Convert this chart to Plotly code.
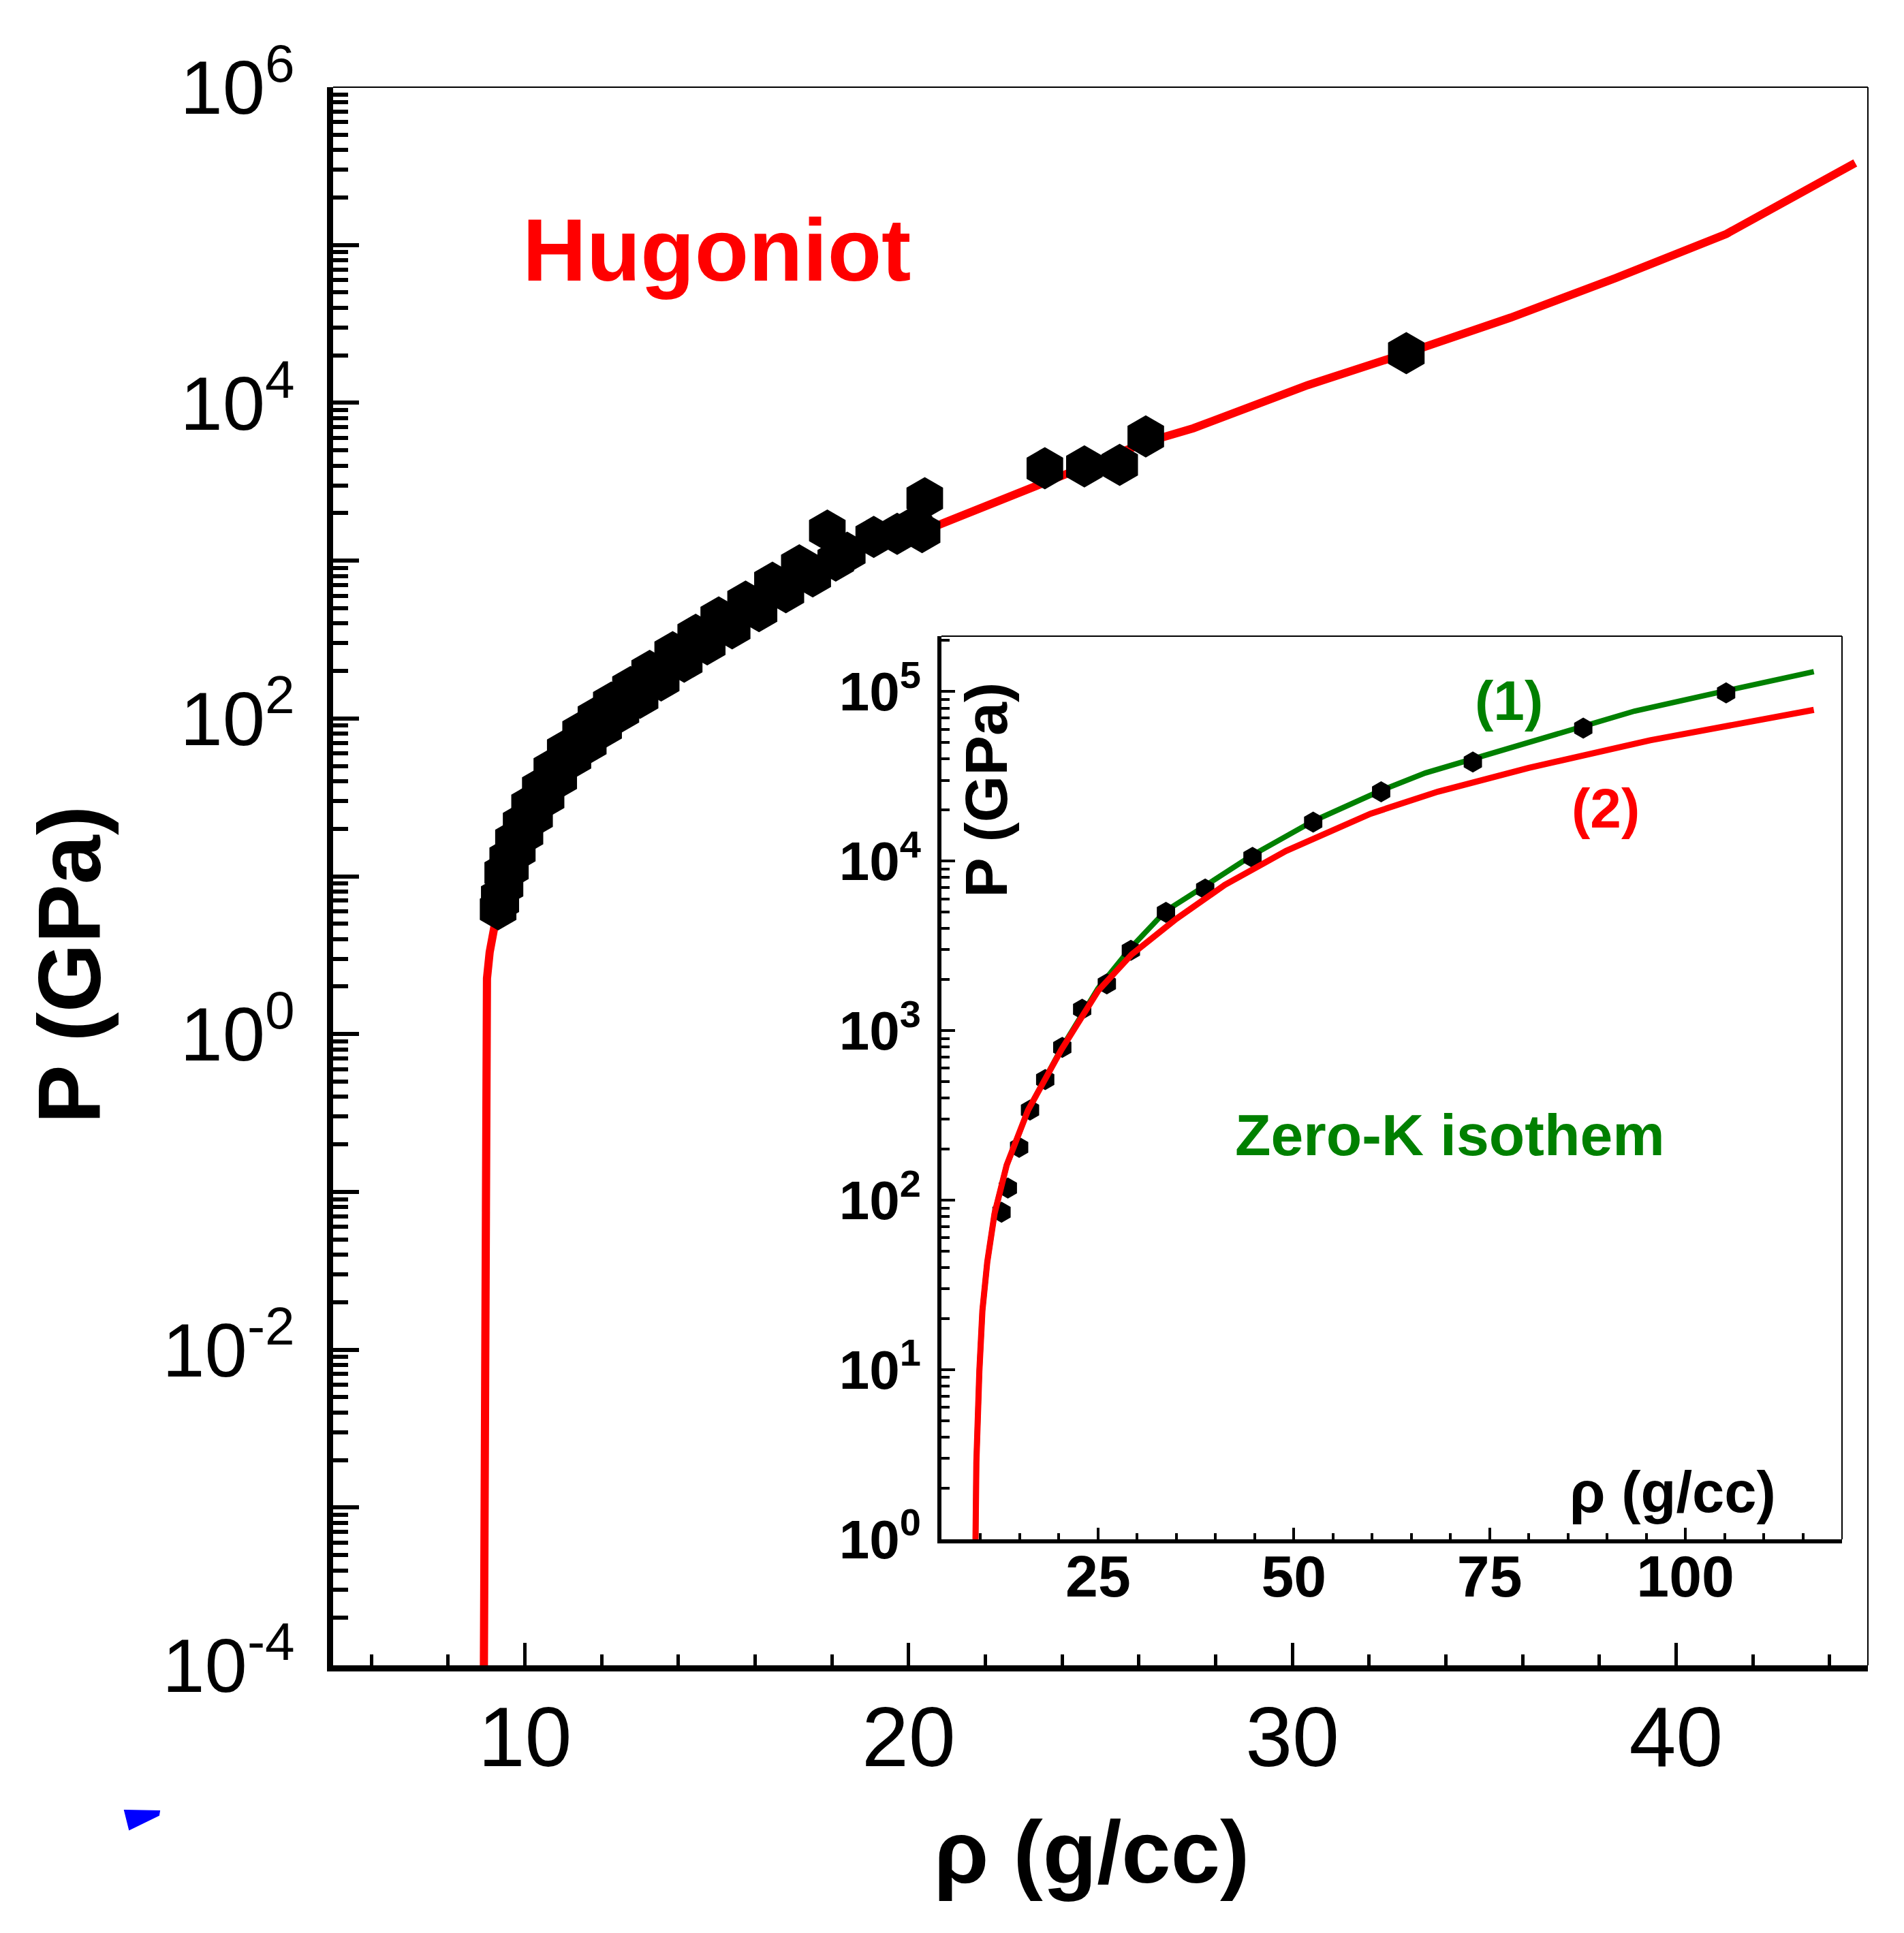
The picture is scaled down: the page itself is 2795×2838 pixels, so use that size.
import plotly.graph_objects as go

W, H = 2795, 2838
OFF = 8  # page body margin

# ---- main panel: Hugoniot (red) + shock data (black hexagons) ----
hug_rho = [8.93, 8.95, 8.99, 9.01, 9.08, 9.22, 9.31, 9.41, 9.70, 10.10, 10.64, 11.27,
           12.35, 13.24, 14.13, 15.01, 15.90, 16.78, 17.90, 19.09, 20.79, 23.29,
           26.18, 27.42, 30.40, 32.97, 35.69, 38.42, 41.31, 44.67]
hug_p = [1e-4, 1e-2, 1.0, 2.25, 3.3, 5.0, 6.17, 8.93, 14.7, 24.1, 39.6, 65.0,
         117, 172, 258, 377, 502, 718, 1047, 1349, 1687, 2965,
         5623, 6902, 12940, 20650, 34670, 61660, 117500, 331100]

exp_rho = [9.30, 9.33, 9.37, 9.42, 9.48, 9.55, 9.62, 9.70, 9.80, 9.90, 10.00, 10.12,
           10.25, 10.40, 10.55, 10.70, 10.88, 11.05, 11.25, 11.45, 11.65, 11.85,
           12.05, 12.25, 12.50, 12.75, 13.00, 13.25, 13.55, 13.85, 14.15, 14.45,
           14.75, 15.05, 15.40, 15.75, 16.10, 16.45, 16.80, 17.15, 17.50, 17.88,
           18.10, 18.40, 19.09, 19.70, 20.14, 20.35, 20.42, 23.55, 24.58, 25.50,
           26.18, 32.97]
exp_p = [6.17, 7.41, 6.92, 10.5, 8.71, 13.0, 11.2, 16.9, 14.5, 21.6, 18.6, 28.2,
         24.0, 36.3, 31.6, 47.9, 41.7, 63.1, 56.2, 82.2, 69.2, 102,
         87.1, 126, 110, 158, 135, 200, 174, 263, 229, 339,
         295, 437, 372, 550, 479, 724, 631, 933, 794, 1550,
         1000, 1122, 1413, 1479, 1641, 1514, 2483, 3850, 3950, 4040,
         6120, 20650]

main_yticks = [1e-4, 1e-2, 1e0, 1e2, 1e4, 1e6]
main_ytext = ["10<sup>-4</sup>", "10<sup>-2</sup>", "10<sup>0</sup>",
              "10<sup>2</sup>", "10<sup>4</sup>", "10<sup>6</sup>"]
main_yticks_odd = [1e-3, 1e-1, 1e1, 1e3, 1e5]
main_xticks = [10, 20, 30, 40]

# ---- inset: zero-K isotherms ----
iso1_rho = [9.28, 9.30, 9.46, 9.84, 10.23, 10.85, 11.78, 13.33, 16.05, 20.31, 25.0,
            29.2, 33.6, 38.7, 44.7, 52.5, 61.2, 66.8, 72.9, 80.0, 87.0, 93.5, 105.2, 116.4]
iso1_p = [0.5, 1.0, 2.84, 9.77, 22.3, 43.1, 83.4, 161, 339, 785, 1778,
          3090, 5070, 7160, 10840, 17260, 26180, 33110, 40270, 50120, 62370, 76740, 101200, 131200]

iso2_rho = [9.28, 9.30, 9.46, 9.84, 10.23, 10.85, 11.78, 13.33, 16.05, 20.31, 25.0,
            29.3, 35.0, 41.2, 49.0, 59.8, 68.4, 80.0, 95.5, 116.4]
iso2_p = [0.5, 1.0, 2.84, 9.77, 22.3, 43.1, 83.4, 161, 339, 771, 1717,
          2818, 4571, 7244, 11480, 19050, 25700, 35480, 51640, 78000]

calc_rho = [12.67, 13.48, 14.92, 16.31, 18.25, 20.43, 22.97, 26.12, 29.19, 33.67,
            38.68, 44.72, 52.47, 61.15, 72.86, 86.96, 105.2]
calc_p = [85, 118, 205, 340, 515, 798, 1337, 1888, 2980, 4990,
          6855, 10520, 16980, 25650, 38450, 60950, 98200]

ins_yticks = [1e0, 1e1, 1e2, 1e3, 1e4, 1e5]
ins_ytext = ["10<sup>0</sup>", "10<sup>1</sup>", "10<sup>2</sup>", "10<sup>3</sup>",
             "10<sup>4</sup>", "10<sup>5</sup>"]
ins_xticks = [25, 50, 75, 100]


def px(x):
    return (x - OFF) / W


def py(y):
    return 1 - (y - OFF) / H


REG = "Liberation Sans, Arial, sans-serif"
NARROW = "Liberation Sans Narrow, Arial Narrow, Liberation Sans, sans-serif"

fig = go.Figure()

fig.add_trace(go.Scatter(x=hug_rho, y=hug_p, mode="lines",
                         line=dict(color="#ff0000", width=12), xaxis="x", yaxis="y"))
fig.add_trace(go.Scatter(x=exp_rho, y=exp_p, mode="markers",
                         marker=dict(symbol="hexagon", size=62, color="black", line=dict(width=0)),
                         xaxis="x", yaxis="y"))
# empty trace so the odd-decade tick axis gets drawn
fig.add_trace(go.Scatter(x=[], y=[], xaxis="x", yaxis="y3", hoverinfo="skip"))

fig.add_trace(go.Scatter(x=iso1_rho, y=iso1_p, mode="lines",
                         line=dict(color="#008000", width=8), xaxis="x2", yaxis="y2"))
fig.add_trace(go.Scatter(x=calc_rho, y=calc_p, mode="markers",
                         marker=dict(symbol="hexagon", size=31, color="black", line=dict(width=0)),
                         xaxis="x2", yaxis="y2"))
fig.add_trace(go.Scatter(x=iso2_rho, y=iso2_p, mode="lines",
                         line=dict(color="#ff0000", width=9), xaxis="x2", yaxis="y2"))

fig.update_layout(
    template="none",
    width=W, height=H,
    margin=dict(l=0, r=0, t=0, b=0, autoexpand=False),
    paper_bgcolor="white", plot_bgcolor="rgba(0,0,0,0)",
    showlegend=False,
    xaxis=dict(
        domain=[px(489), px(2742)], anchor="y", range=[5, 45], automargin=False,
        showgrid=False, zeroline=False,
        showline=True, linewidth=9, linecolor="black",
        tickmode="array", tickvals=main_xticks,
        ticks="inside", ticklen=33, tickwidth=5, tickcolor="black",
        tickfont=dict(family=REG, size=124, color="black"),
        ticklabelstandoff=-10,
        minor=dict(ticks="inside", ticklen=16, tickwidth=5, tickcolor="black",
                   tickmode="linear", tick0=0, dtick=2, showgrid=False),
    ),
    yaxis=dict(
        domain=[py(2445), py(128)], anchor="x", type="log", range=[-4, 6], automargin=False,
        showgrid=False, zeroline=False,
        showline=True, linewidth=9, linecolor="black",
        tickmode="array", tickvals=main_yticks, ticktext=main_ytext,
        ticks="inside", ticklen=38, tickwidth=6, tickcolor="black",
        tickfont=dict(family=REG, size=112, color="black"),
        ticklabelstandoff=25,
        minor=dict(ticks="inside", ticklen=22, tickwidth=6, tickcolor="black",
                   tickmode="linear", dtick="D1", showgrid=False),
    ),
    yaxis3=dict(
        overlaying="y", anchor="x", side="left", type="log", range=[-4, 6], automargin=False,
        showgrid=False, zeroline=False, showline=False,
        tickmode="array", tickvals=main_yticks_odd, showticklabels=False,
        ticks="inside", ticklen=38, tickwidth=6, tickcolor="black",
    ),
    xaxis2=dict(
        domain=[px(1382), px(2704)], anchor="y2", range=[5, 120], automargin=False,
        showgrid=False, zeroline=False,
        showline=True, linewidth=6, linecolor="black",
        tickmode="array", tickvals=ins_xticks,
        ticks="inside", ticklen=17, tickwidth=4, tickcolor="black",
        tickfont=dict(family=NARROW, size=86, color="black", weight="bold"),
        ticklabelstandoff=-25,
        minor=dict(ticks="inside", ticklen=9, tickwidth=4, tickcolor="black",
                   tickmode="linear", tick0=0, dtick=5, showgrid=False),
    ),
    yaxis2=dict(
        domain=[py(2260), py(934)], anchor="x2", type="log", range=[0, 5.327], automargin=False,
        showgrid=False, zeroline=False,
        showline=True, linewidth=6, linecolor="black",
        tickmode="array", tickvals=ins_yticks, ticktext=ins_ytext,
        ticks="inside", ticklen=20, tickwidth=4, tickcolor="black",
        tickfont=dict(family=REG, size=80, color="black", weight="bold"),
        ticklabelstandoff=8,
        minor=dict(ticks="inside", ticklen=12, tickwidth=4, tickcolor="black",
                   tickmode="linear", dtick="D1", showgrid=False),
    ),
)

# thin top / right frame lines of both panels
for xr, yr in (("x domain", "y domain"), ("x2 domain", "y2 domain")):
    fig.add_shape(type="line", xref=xr, yref=yr, x0=0, x1=1, y0=1, y1=1,
                  line=dict(color="black", width=2))
    fig.add_shape(type="line", xref=xr, yref=yr, x0=1, x1=1, y0=0, y1=1,
                  line=dict(color="black", width=2))

# small blue wedge in the lower-left corner
fig.add_shape(type="path", xref="paper", yref="paper",
              path=f"M {px(183)},{py(2658)} L {px(234)},{py(2659)} L {px(233)},{py(2665)} "
                   f"L {px(190)},{py(2686)} Z",
              fillcolor="#0000ff", line=dict(color="#0000ff", width=2))


def note(text, x, y, size, color="black", angle=0, family=REG):
    fig.add_annotation(text=text, x=px(x), y=py(y), xref="paper", yref="paper",
                       showarrow=False, textangle=angle, xanchor="center", yanchor="middle",
                       font=dict(family=family, size=size, color=color, weight="bold"))


note("ρ (g/cc)", 1602, 2719, 130)
note("P (GPa)", 102, 1417, 130, angle=-90)
note("Hugoniot", 1052, 367, 130, color="#ff0000")
note("P (GPa)", 1448, 1160, 88, angle=-90)
note("ρ (g/cc)", 2455, 2190, 85)
note("Zero-K isothem", 2128, 1666, 86, color="#008000")
note("(1)", 2215, 1028, 82, color="#008000")
note("(2)", 2357, 1186, 82, color="#ff0000")

fig.write_html("out.html")
